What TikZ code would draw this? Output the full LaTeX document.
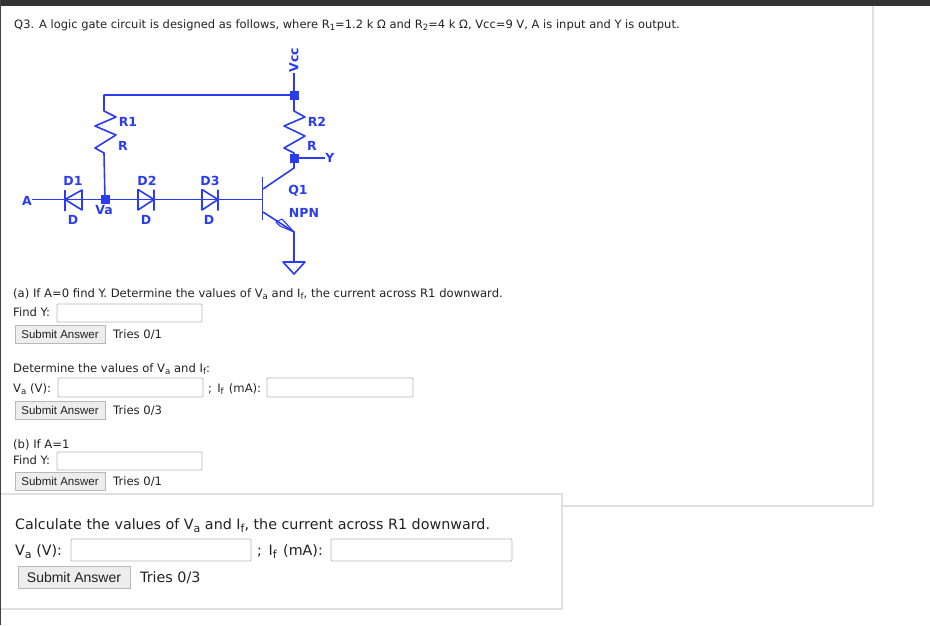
\documentclass[tikz,border=0pt]{standalone}
\usepackage{fontspec}
\setmainfont{DejaVu Sans}
\newfontfamily\btnfont{Liberation Sans}
\usetikzlibrary{calc}
\definecolor{ckt}{HTML}{2A3CF0}
\definecolor{ink}{HTML}{222222}
\newcommand{\lowsub}[1]{\raisebox{-2.8pt}{\fontsize{8.6}{8.6}\selectfont #1}}
\newcommand{\lowsubb}[1]{\raisebox{-3.4pt}{\fontsize{11}{11}\selectfont #1}}
\tikzset{
  wire/.style={draw=ckt,line width=1.6pt,line join=round},
  junc/.style={fill=ckt,draw=none,minimum size=9pt,inner sep=0pt,rectangle},
  lab/.style={text=ckt,font=\fontsize{12.5}{12.5}\selectfont\bfseries,inner sep=0pt,anchor=center},
  txt/.style={text=ink,font=\fontsize{11.6}{12}\selectfont,inner sep=0pt,anchor=base west},
  bigtxt/.style={text=ink,font=\fontsize{14.3}{14}\selectfont,inner sep=0pt,anchor=base west},
  field/.style={draw=black!28,fill=white,rounded corners=1pt,line width=0.9pt},
  btn/.style={draw=black!28,fill=black!7,line width=0.9pt,text=ink,inner sep=0pt},
  shadowedge/.style={draw=black!12,line width=2pt},
}
\begin{document}
\begin{tikzpicture}[x=1pt,y=-1pt]
\useasboundingbox (0,0) rectangle (930,625);
\fill[white] (0,0) rectangle (930,625);
% page frame
\fill[black!80] (0,0) rectangle (930,6);
\fill[black!75] (0,0) rectangle (1.2,625);
\draw[shadowedge] (873,6) -- (873,506) -- (1,506);
% title
\node[txt,font=\fontsize{11.5}{12}\selectfont] (title) at (14,28) {Q3. A logic gate circuit is designed as follows, where R\lowsub{1}=1.2 k Ω and R\lowsub{2}=4 k Ω, Vcc=9 V, A is input and Y is output.};
% circuit anchors
\node[junc] (jv) at (294,95) {};
\node[junc] (jy) at (294,158) {};
\node[junc] (ja) at (105,199.5) {};
\coordinate (vtop) at (294,73);
\coordinate (corner) at (104,95);
\coordinate (ain) at (32,199.5);
\coordinate (yout) at (325,158);
\coordinate (gnd) at (294,262);
\coordinate (base) at (263,199.5);
% R1, R2
\draw[wire] (jv.center) -- (corner) -- (104,111) -- (116,117) -- (95,126) -- (116,135) -- (95,148) -- (104,153) -- (ja.center);
\draw[wire] (vtop) -- (jv.center) -- (294,111) -- (305,117) -- (284,126) -- (305,136) -- (284,148) -- (294,153) -- (jy.center);
\draw[wire] (jy.center) -- (yout);
% diodes
\draw[wire] (ain) -- (ja.center) -- (base);
\draw[wire] (65,190) -- (65,211) (82,190) -- (65,199.5) -- (82,210) -- cycle;
\draw[wire] (138,189.5) -- (154,199.5) -- (138,210) -- cycle (154,189.5) -- (154,210.5);
\draw[wire] (202,189.5) -- (218,199.5) -- (202,210) -- cycle (218,189.5) -- (218,210.5);
% transistor
\draw[wire] (262.5,177) -- (262.5,220);
\draw[wire] (jy.center) -- (294,168) -- (263,189);
\draw[wire] (263,212) -- (294,232) -- (gnd);
\draw[wire,line width=1.1pt] (294,232) -- (282,219) -- (276,222) -- (280,226) -- cycle;
\draw[wire] (283,262) -- (305,262) -- (294,274) -- cycle;
% circuit labels
\node[lab] (lvcc) at (294,60) {\rotatebox{90}{Vcc}};
\node[lab] (lr1) at (128,122) {R1};
\node[lab] (lr1v) at (123,146) {R};
\node[lab] (lr2) at (317,122) {R2};
\node[lab] (lr2v) at (312,146) {R};
\node[lab] (ly) at (330,158) {Y};
\node[lab] (lq) at (298,191) {Q1};
\node[lab] (lnpn) at (304,213) {NPN};
\node[lab] (la) at (27,201) {A};
\node[lab] (lva) at (104,210) {Va};
\node[lab] (ld1) at (73,181) {D1};
\node[lab] (ld1v) at (73,220) {D};
\node[lab] (ld2) at (147,181) {D2};
\node[lab] (ld2v) at (146,220) {D};
\node[lab] (ld3) at (210,181) {D3};
\node[lab] (ld3v) at (209,220) {D};
% part a
\node[txt] (ta) at (13,297) {(a) If A=0 find Y. Determine the values of V\lowsub{a} and I\lowsub{f}, the current across R1 downward.};
\node[txt] (tf1) at (13,316) {Find Y:};
\draw[field] (57,304) rectangle (202,322);
\node[btn,minimum width=90pt,minimum height=18pt,font=\btnfont\fontsize{11.5}{12}\selectfont] (b1) at (60,334) {Submit Answer};
\node[txt] (t1) at (113,338) {Tries 0/1};
\node[txt] (td) at (13,372) {Determine the values of V\lowsub{a} and I\lowsub{f}:};
\node[txt] (tv) at (13,392) {V\lowsub{a} (V):};
\draw[field] (58,378) rectangle (203,397);
\node[txt] (ti) at (208,392) {;\kern1.5pt{} I\lowsub{f}\kern1.5pt{} (mA):};
\draw[field] (267,378) rectangle (413,397);
\node[btn,minimum width=90pt,minimum height=18pt,font=\btnfont\fontsize{11.5}{12}\selectfont] (b2) at (60,410) {Submit Answer};
\node[txt] (t2) at (113,414) {Tries 0/3};
% part b
\node[txt] (tb) at (13,448) {(b) If A=1};
\node[txt] (tf2) at (13,464) {Find Y:};
\draw[field] (57,452) rectangle (202,470);
\node[btn,minimum width=90pt,minimum height=18pt,font=\btnfont\fontsize{11.5}{12}\selectfont] (b3) at (60,481) {Submit Answer};
\node[txt] (t3) at (113,485) {Tries 0/1};
% overlay panel
\fill[white] (1.2,494) rectangle (562,609);
\draw[shadowedge] (1.2,494) -- (562,494) -- (562,609) -- (1.2,609);
\node[bigtxt] (tc) at (15,529) {Calculate the values of V\lowsubb{a} and I\lowsubb{f}, the current across R1 downward.};
\node[bigtxt] (tv2) at (15,555) {V\lowsubb{a} (V):};
\draw[field] (71,539) rectangle (251,561);
\node[bigtxt] (ti2) at (257,555) {;\kern2pt{} I\lowsubb{f}\kern2pt{} (mA):};
\draw[field] (331,539) rectangle (512,561);
\node[btn,minimum width=112pt,minimum height=22pt,font=\btnfont\fontsize{14}{14}\selectfont] (b4) at (74,577) {Submit Answer};
\node[bigtxt] (t4) at (140,582) {Tries 0/3};
\end{tikzpicture}
\end{document}
